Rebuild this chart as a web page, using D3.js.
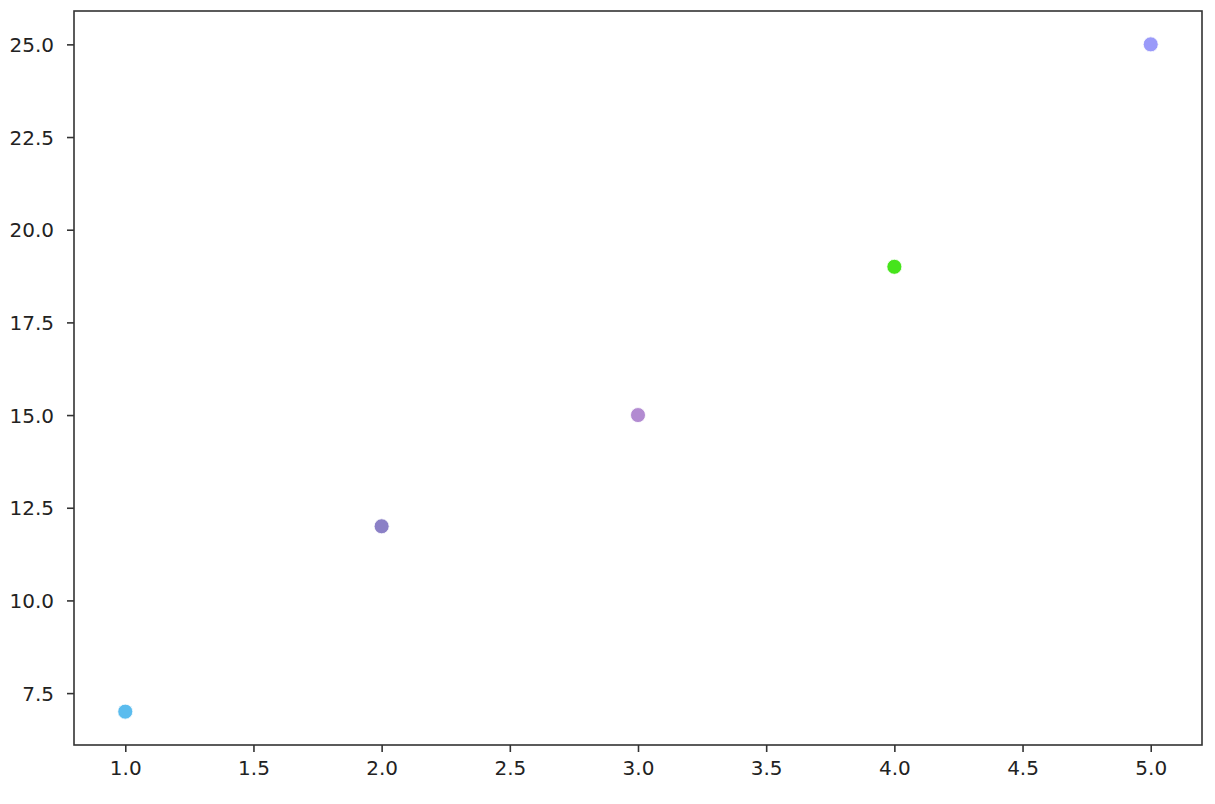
<!DOCTYPE html>
<html>
<head>
<meta charset="utf-8">
<script src="https://cdn.jsdelivr.net/npm/d3@7"></script>
<style>
  html, body { margin: 0; padding: 0; background: #fff; }
  svg { display: block; }
  .tick text { font-family: "DejaVu Sans", sans-serif; font-size: 20px; fill: #222; }
</style>
</head>
<body>
<div id="chart"></div>
<script>
/* scatter: five points, one colour each */
const xValues = [1, 2, 3, 4, 5];
const yValues = [7, 12, 15, 19, 25];
const pointColors = ['#5bbcee', '#8b80c6', '#b28bd1', '#46e41b', '#9a9af9'];

const xTicks = [1.0, 1.5, 2.0, 2.5, 3.0, 3.5, 4.0, 4.5, 5.0];
const yTicks = [7.5, 10.0, 12.5, 15.0, 17.5, 20.0, 22.5, 25.0];

const W = 1215, H = 804;
const margin = { top: 11, right: 13, bottom: 59, left: 74 };

const svg = d3.select('#chart')
  .append('svg')
  .attr('width', W)
  .attr('height', H);

/* matplotlib-style 5% padding on both axes */
const xExt = d3.extent(xValues), yExt = d3.extent(yValues);
const xPad = (xExt[1] - xExt[0]) * 0.05, yPad = (yExt[1] - yExt[0]) * 0.05;

const x = d3.scaleLinear()
  .domain([xExt[0] - xPad, xExt[1] + xPad])
  .range([margin.left, W - margin.right]);

const y = d3.scaleLinear()
  .domain([yExt[0] - yPad, yExt[1] + yPad])
  .range([H - margin.bottom, margin.top]);

const xAxis = svg.append('g')
  .attr('transform', `translate(0,${H - margin.bottom})`)
  .call(d3.axisBottom(x).tickValues(xTicks).tickFormat(d3.format('.1f'))
    .tickSize(7).tickPadding(9));

const yAxis = svg.append('g')
  .attr('transform', `translate(${margin.left},0)`)
  .call(d3.axisLeft(y).tickValues(yTicks).tickFormat(d3.format('.1f'))
    .tickSize(7).tickPadding(13));

[xAxis, yAxis].forEach(g => {
  g.select('.domain').remove();
  g.selectAll('.tick line').attr('stroke', '#333').attr('stroke-width', 1.6);
});
yAxis.selectAll('.tick text').attr('dy', '0.36em');

/* frame */
svg.append('rect')
  .attr('x', margin.left).attr('y', margin.top)
  .attr('width', W - margin.left - margin.right)
  .attr('height', H - margin.top - margin.bottom)
  .attr('fill', 'none')
  .attr('stroke', '#333')
  .attr('stroke-width', 1.6);

/* points */
svg.append('g')
  .selectAll('circle')
  .data(xValues.map((v, i) => ({ x: v, y: yValues[i], c: pointColors[i] })))
  .join('circle')
  .attr('cx', d => x(d.x))
  .attr('cy', d => y(d.y))
  .attr('r', 7.5)
  .attr('fill', d => d.c)
  .attr('stroke', '#fff')
  .attr('stroke-width', 0.8);
</script>
</body>
</html>
